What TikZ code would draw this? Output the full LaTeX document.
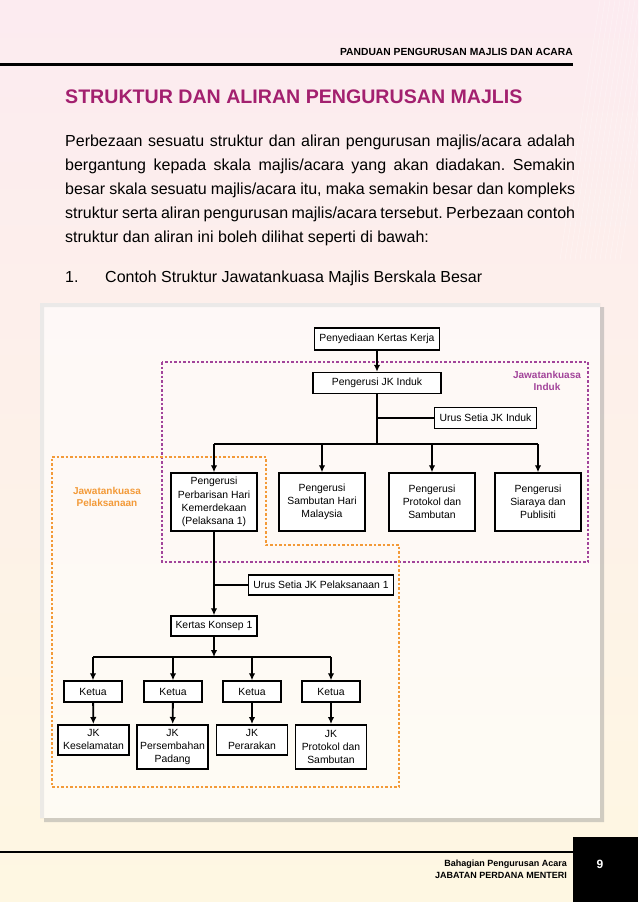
\documentclass[tikz,border=0pt]{standalone}
\usepackage{fontspec}
\setmainfont{Liberation Sans}
\usetikzlibrary{arrows.meta}
\definecolor{judul}{HTML}{A3206F}
\definecolor{ungu}{HTML}{A2449A}
\definecolor{oren}{HTML}{F39A38}
\definecolor{latasA}{HTML}{FCEBF0}
\definecolor{latasB}{HTML}{F9D8E1}
\definecolor{latasC}{HTML}{FEF7E2}
\frenchspacing
\begin{document}
\begin{tikzpicture}[x=1pt,y=-1pt,>={Latex[length=7pt,width=6.5pt]},
    kotak/.style={draw,line width=1.5pt,fill=white,align=center,inner xsep=2pt,inner ysep=3pt,
      font=\fontsize{10.4}{13.2}\selectfont},
    pengerusi/.style={minimum width=86pt,minimum height=58pt},
    ketua/.style={minimum width=58pt,minimum height=21pt},
    jk/.style={minimum width=71pt,anchor=north},
    garis/.style={line width=1.8pt},
    sempadan/.style={line width=1.2pt,dash pattern=on 2.5pt off 2pt},
    label/.style={font=\bfseries\fontsize{10}{12}\selectfont,align=center},
    baris/.style={anchor=base west,inner sep=0pt,font=\fontsize{16}{24}\selectfont}]
  \useasboundingbox (0,0) rectangle (638,902);
  % latar
  \shade[top color=latasA,middle color=latasB,bottom color=latasC] (0,0) rectangle (638,902);
  \foreach \i in {0,...,12}
    \draw[white,opacity=.45,line width=.4pt] (600+\i*5,0) -- (560+\i*5,260);
  % kepala halaman
  \node[anchor=base east,inner sep=0pt,font=\bfseries\fontsize{10.3}{12}\selectfont] (kepala) at (573,55)
    {PANDUAN PENGURUSAN MAJLIS DAN ACARA};
  \fill (0,63) rectangle (573,66);
  \node[anchor=base west,inner sep=0pt,text=judul,font=\bfseries\fontsize{19.6}{22}\selectfont] (tajuk) at (65,103)
    {STRUKTUR DAN ALIRAN PENGURUSAN MAJLIS};
  \node[baris] (baris1) at (65,146) {\makebox[510pt][s]{Perbezaan sesuatu struktur dan aliran pengurusan majlis/acara adalah}};
  \node[baris] (baris2) at (65,170) {\makebox[510pt][s]{bergantung kepada skala majlis/acara yang akan diadakan. Semakin}};
  \node[baris] (baris3) at (65,194) {\makebox[510pt][s]{besar skala sesuatu majlis/acara itu, maka semakin besar dan kompleks}};
  \node[baris] (baris4) at (65,218) {\makebox[510pt][s]{struktur serta aliran pengurusan majlis/acara tersebut. Perbezaan contoh}};
  \node[baris] (baris5) at (65,242) {struktur dan aliran ini boleh dilihat seperti di bawah:};
  \node[baris] (nombor) at (65,282) {1.};
  \node[baris] (contoh) at (105,282) {Contoh Struktur Jawatankuasa Majlis Berskala Besar};
  % panel
  \fill[black!40,opacity=.45,even odd rule] (44,307) rectangle (604,822) (40,303) rectangle (600,818);
  \fill[white,opacity=.6] (40,303) rectangle (600,818);
  % kawasan jawatankuasa
  \draw[sempadan,ungu] (162,362) rectangle (588,562);
  \draw[sempadan,oren] (52,457) -- (266,457) -- (266,545) -- (399,545) -- (399,787) -- (52,787) -- cycle;
  \node[label,text=ungu] (lblinduk) at (547,381) {Jawatankuasa\\Induk};
  \node[label,text=oren] (lblpelaksana) at (107,497) {Jawatankuasa\\Pelaksanaan};
  % jk induk
  \node[kotak,minimum width=125pt,minimum height=22pt] (kerja) at (377,339) {Penyediaan Kertas Kerja};
  \node[kotak,minimum width=128pt,minimum height=21pt] (induk) at (377,383) {Pengerusi JK Induk};
  \node[kotak,minimum width=102pt,minimum height=21pt] (setia) at (485.5,418) {Urus Setia JK Induk};
  \node[kotak,pengerusi] (perbarisan) at (214,502) {Pengerusi\\Perbarisan Hari\\Kemerdekaan\\(Pelaksana 1)};
  \node[kotak,pengerusi] (sambutan) at (322,502) {Pengerusi\\Sambutan Hari\\Malaysia};
  \node[kotak,pengerusi] (protokol) at (432,502) {Pengerusi\\Protokol dan\\Sambutan};
  \node[kotak,pengerusi] (siaraya) at (538,502) {Pengerusi\\Siaraya dan\\Publisiti};
  \coordinate (bus) at (377,444);
  \draw[garis,->] (kerja) -- (induk);
  \draw[garis] (induk) -- (bus);
  \draw[garis] (setia.west) -- (setia.west -| bus);
  \draw[garis] (perbarisan.north |- bus) -- (siaraya.north |- bus);
  \foreach \n in {perbarisan,sambutan,protokol,siaraya}
    \draw[garis,->] (\n.north |- bus) -- (\n.north);
  % jk pelaksanaan
  \node[kotak,minimum width=145pt,minimum height=20pt] (setiap) at (321,585) {Urus Setia JK Pelaksanaan 1};
  \node[kotak,minimum width=86pt,minimum height=20pt] (konsep) at (214,626) {Kertas Konsep 1};
  \coordinate (bus2) at (214,657);
  \draw[garis,->] (perbarisan) -- (konsep);
  \draw[garis] (setiap.west) -- (setiap.west -| konsep);
  \draw[garis,->] (konsep) -- (bus2);
  \foreach \x [count=\i] in {93,173,252,331}
    \node[kotak,ketua] (ketua\i) at (\x,691.5) {Ketua};
  \node[kotak,jk,minimum height=30pt] (jk1) at (93.5,724) {JK\\Keselamatan};
  \node[kotak,jk,minimum height=44pt] (jk2) at (172.5,724) {JK\\Persembahan\\Padang};
  \node[kotak,jk,minimum height=30pt] (jk3) at (252,724) {JK\\Perarakan};
  \node[kotak,jk,minimum height=44pt] (jk4) at (331,724) {JK\\Protokol dan\\Sambutan};
  \draw[garis] (ketua1.north |- bus2) -- (ketua4.north |- bus2);
  \foreach \i in {1,...,4}{
    \draw[garis,->] (ketua\i.north |- bus2) -- (ketua\i.north);
    \draw[garis,->] (ketua\i) -- (jk\i);
  }
  % kaki halaman
  \fill (0,851) rectangle (573,853);
  \fill (573,837) rectangle (638,902);
  \node[anchor=base,inner sep=0pt,text=white,font=\bfseries\fontsize{12}{14}\selectfont] (halaman) at (600,868) {9};
  \node[anchor=base east,inner sep=0pt,font=\bfseries\fontsize{9}{11}\selectfont] (bahagian) at (567,866) {Bahagian Pengurusan Acara};
  \node[anchor=base east,inner sep=0pt,font=\bfseries\fontsize{9}{11}\selectfont] (jabatan) at (567,878) {JABATAN PERDANA MENTERI};
\end{tikzpicture}
\end{document}
